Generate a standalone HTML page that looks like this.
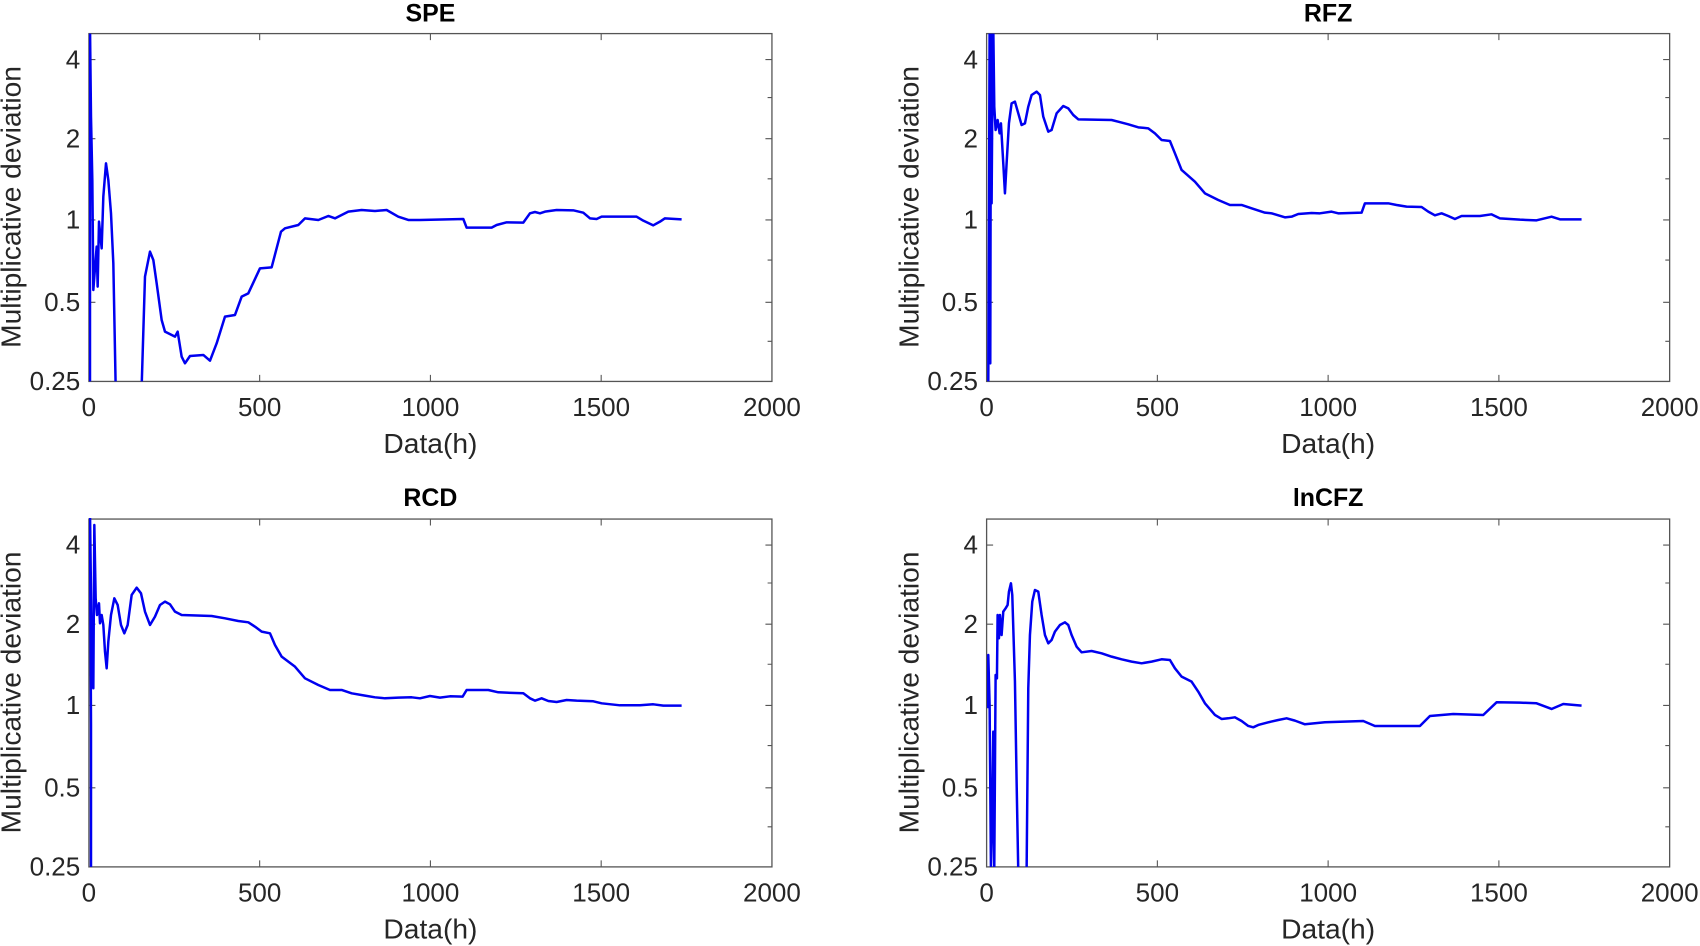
<!DOCTYPE html>
<html><head><meta charset="utf-8"><style>
html,body{margin:0;padding:0;background:#fff;overflow:hidden}
svg{display:block}
text{font-family:"Liberation Sans",sans-serif;fill:#262626}
.t{font-size:24px}
.lb{font-size:26px}
.ti{font-size:23px;font-weight:bold;fill:#000}
.ax{fill:none;stroke:#555;stroke-width:1.2}
.tk{stroke:#555;stroke-width:1}
.s{fill:none;stroke:#0000f0;stroke-width:7.5;stroke-linejoin:round}
</style></head><body>
<svg width="1700" height="946" viewBox="0 0 1568 873" preserveAspectRatio="none" xmlns="http://www.w3.org/2000/svg">
<defs>
<clipPath id="c1"><rect x="82" y="31" width="630" height="321"/></clipPath>
<clipPath id="c2"><rect x="910" y="31" width="630" height="321"/></clipPath>
<clipPath id="c3"><rect x="82" y="478" width="630" height="322"/></clipPath>
<clipPath id="c4"><rect x="910" y="478" width="630" height="322"/></clipPath>
<g id="axT">
<rect class="ax" x="0" y="31" width="630" height="321"/>
<path class="tk" d="M157.5,31v6M315,31v6M472.5,31v6M157.5,352v-6M315,352v-6M472.5,352v-6M0,55h6M0,128h6M0,203h6M0,279h6M630,55h-6M630,128h-6M630,203h-6M630,279h-6M630,90h-4M630,165h-4M630,240h-4M630,315h-4"/>
<g class="t" text-anchor="end"><text x="-8" y="63">4</text><text x="-8" y="136">2</text><text x="-8" y="211">1</text><text x="-8" y="287">0.5</text><text x="-8" y="360">0.25</text></g>
<g class="t" text-anchor="middle"><text x="0" y="384">0</text><text x="157.5" y="384">500</text><text x="315" y="384">1000</text><text x="472.5" y="384">1500</text><text x="630" y="384">2000</text></g>
<text class="lb" x="315" y="418" text-anchor="middle">Data(h)</text>
<text class="lb" text-anchor="middle" transform="translate(-63,191) rotate(-90)">Multiplicative deviation</text>
</g>
</defs>
<use href="#axT" x="82"/>
<use href="#axT" x="910"/>
<use href="#axT" x="82" y="448"/>
<use href="#axT" x="910" y="448"/>
<text class="ti" x="397" y="20" text-anchor="middle">SPE</text>
<text class="ti" x="1225" y="20" text-anchor="middle">RFZ</text>
<text class="ti" x="397" y="467" text-anchor="middle">RCD</text>
<text class="ti" x="1225" y="467" text-anchor="middle">lnCFZ</text>

<g clip-path="url(#c1)"><g transform="scale(0.9223,0.9228) translate(85,30) scale(0.33333)">
<polyline class="s" points="15,1060 15,-10 18,260 22,450 25,780 35,650 38,770 42,575 50,655 55,500 63,400 70,450 78,550 85,700 92,1070"/>
<polyline class="s" points="170,1070 180,740 195,665 205,690 215,760 230,870 240,905 270,920 278,905 290,980 300,1000 315,978 355,975 375,992 395,940 420,860 450,855 470,800 490,790 525,715 560,712 588,605 600,595 640,585 660,565 700,570 730,558 750,565 790,545 830,540 870,543 905,540 940,560 970,570 1005,570 1135,567 1145,593 1220,593 1235,585 1265,577 1315,578 1335,550 1350,546 1365,550 1380,545 1415,540 1465,541 1495,548 1515,565 1535,567 1550,560 1655,560 1675,572 1705,586 1725,575 1740,565 1790,568"/>
</g></g>
<g clip-path="url(#c2)"><g transform="scale(0.9223,0.9228) translate(985,30) scale(0.33333)">
<polyline class="s" points="10,1060 12,600 14,-10 16,1000 18,-10 20,520 22,230 25,-10 28,230 32,300 38,270 44,310 48,280 55,400 60,490 65,400 72,280 80,220 90,215 100,250 110,285 120,280 130,230 140,195 155,185 165,195 175,260 190,305 200,300 215,250 235,228 250,235 265,255 280,268 380,270 400,275 430,283 460,292 490,295 510,310 530,330 555,333 570,370 590,420 630,455 660,490 700,510 735,525 770,525 800,535 840,548 860,550 900,562 920,560 940,552 980,549 1005,550 1040,545 1060,550 1130,548 1140,520 1210,520 1235,525 1265,530 1310,531 1330,545 1350,556 1370,550 1390,558 1410,567 1430,558 1485,558 1520,553 1545,565 1605,569 1655,571 1700,560 1725,568 1790,568"/>
</g></g>
<g clip-path="url(#c3)"><g transform="scale(0.9223,0.9228) translate(85,515) scale(0.33333)">
<polyline class="s" points="18,1060 18,630 15,-10 20,400 25,520 28,30 32,250 36,300 42,265 45,325 50,300 55,330 60,410 65,460 70,380 78,300 88,250 98,270 108,330 118,355 128,330 140,240 155,218 168,235 180,290 195,330 210,305 225,270 240,260 255,268 270,290 290,300 380,303 420,310 460,318 490,322 510,335 530,350 555,355 570,390 590,425 630,455 660,490 700,510 735,525 770,525 800,535 840,542 870,547 900,550 940,548 980,547 1005,550 1035,543 1065,548 1095,544 1133,545 1145,525 1210,525 1240,532 1315,535 1335,550 1350,557 1370,550 1390,558 1415,561 1445,555 1475,557 1525,559 1550,565 1605,571 1665,571 1705,568 1735,572 1790,572"/>
</g></g>
<g clip-path="url(#c4)"><g transform="scale(0.9223,0.9228) translate(985,515) scale(0.33333)">
<polyline class="s" points="10,580 10,420 14,570 18,1060 22,900 25,650 28,1060 32,480 36,490 38,300 42,370 45,300 50,360 55,290 62,280 68,270 72,230 78,205 82,240 90,500 95,800 100,1070"/>
<polyline class="s" points="125,1070 130,520 135,360 142,260 150,225 160,230 170,300 180,360 190,385 200,375 210,350 225,330 240,322 250,330 260,360 275,395 290,412 320,408 350,415 380,425 410,433 440,440 470,445 500,440 530,433 555,435 570,460 590,485 620,500 640,530 660,565 690,600 710,612 730,610 750,607 770,618 790,633 805,637 820,630 850,622 880,615 905,610 930,617 960,628 990,625 1020,622 1135,618 1170,633 1305,633 1335,603 1405,597 1495,600 1535,562 1605,563 1655,565 1700,582 1735,567 1790,572"/>
</g></g>
</svg>
</body></html>
